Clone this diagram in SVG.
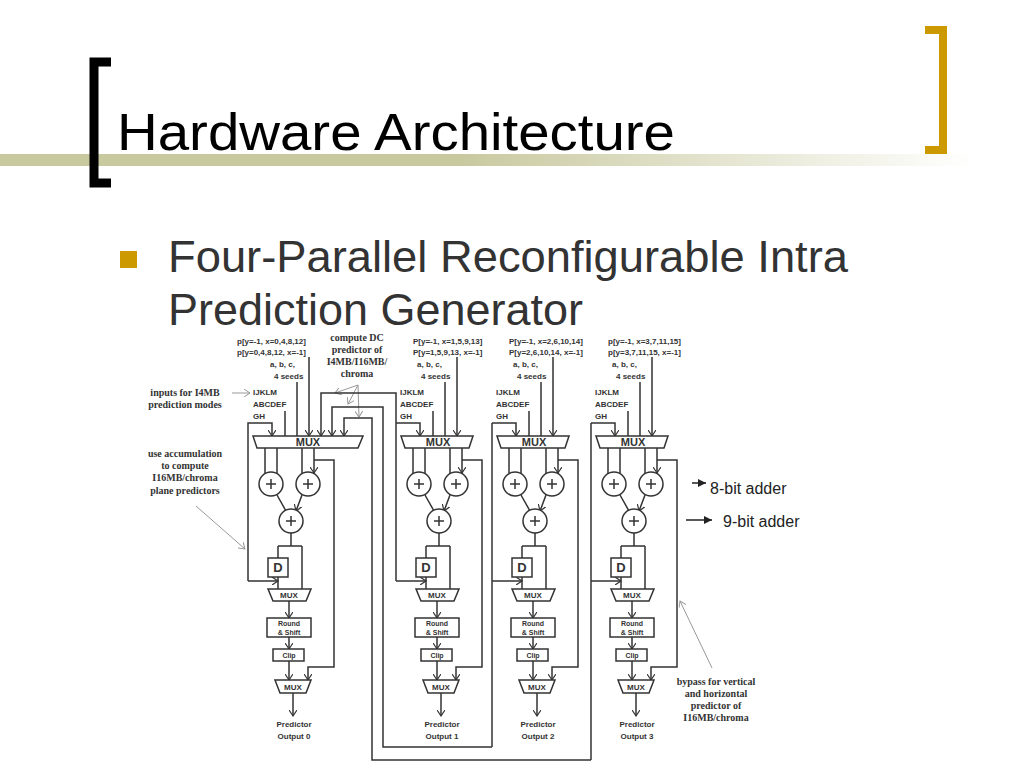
<svg xmlns="http://www.w3.org/2000/svg" width="1024" height="768" viewBox="0 0 1024 768">
<defs>
<linearGradient id="bar" x1="0" x2="1" y1="0" y2="0">
<stop offset="0" stop-color="#c9c9a0"/><stop offset="0.45" stop-color="#c9c9a0"/><stop offset="0.95" stop-color="#ffffff"/>
</linearGradient>
<marker id="ar" markerWidth="8" markerHeight="8" refX="6" refY="4" orient="auto" markerUnits="userSpaceOnUse">
<path d="M0,0 L6,4 L0,8" fill="none" stroke="#333" stroke-width="1.2"/>
</marker>
<marker id="ga" markerWidth="8" markerHeight="8" refX="6" refY="4" orient="auto" markerUnits="userSpaceOnUse">
<path d="M0,0 L6,4 L0,8" fill="none" stroke="#999" stroke-width="1"/>
</marker>
<marker id="la" markerWidth="10" markerHeight="8" refX="8" refY="4" orient="auto" markerUnits="userSpaceOnUse">
<path d="M0,0 L8,4 L0,8 Z" fill="#222"/>
</marker>
</defs>
<style>
.w{fill:none;stroke:#333;stroke-width:1.5}
.a{marker-end:url(#ar)}
.b{fill:#fff;stroke:#333;stroke-width:1.5}
.g{fill:none;stroke:#999;stroke-width:1;marker-end:url(#ga)}
.t{font-family:"Liberation Sans",Arial,sans-serif;font-weight:bold;fill:#333}
.s{font-family:"Liberation Serif","Times New Roman",serif;font-weight:bold;fill:#333;font-size:10px;text-anchor:middle}
.m{text-anchor:middle}
</style>
<rect width="1024" height="768" fill="#fff"/>
<rect x="0" y="154" width="1024" height="12" fill="url(#bar)"/>
<path d="M111,62 H94 V183 H111" fill="none" stroke="#000" stroke-width="9"/>
<path d="M925,30 H943 V150 H925" fill="none" stroke="#cc9900" stroke-width="8"/>
<text x="117" y="150" font-family="Liberation Sans,Arial,sans-serif" font-size="52" fill="#000" textLength="558" lengthAdjust="spacingAndGlyphs">Hardware Architecture</text>
<rect x="120" y="251" width="17" height="17" fill="#cc9900"/>
<text x="168" y="272" font-family="Liberation Sans,Arial,sans-serif" font-size="44" fill="#333" textLength="680" lengthAdjust="spacingAndGlyphs">Four-Parallel Reconfigurable Intra</text>
<text x="168" y="325" font-family="Liberation Sans,Arial,sans-serif" font-size="44" fill="#333" textLength="415" lengthAdjust="spacingAndGlyphs">Prediction Generator</text>

<g id="annotations">
<text class="s" x="185" y="396">inputs for I4MB</text>
<text class="s" x="185" y="408">prediction modes</text>
<path class="g" d="M232,393 H250"/>
<text class="s" x="185" y="457">use accumulation</text>
<text class="s" x="185" y="469">to compute</text>
<text class="s" x="185" y="481">I16MB/chroma</text>
<text class="s" x="185" y="494">plane predictors</text>
<path class="g" d="M196,506 L245,549"/>
<text class="s" x="357" y="341">compute DC</text>
<text class="s" x="357" y="353">predictor of</text>
<text class="s" x="357" y="365">I4MB/I16MB/</text>
<text class="s" x="357" y="377">chroma</text>
<path class="g" d="M358,385 L335,393"/>
<path class="g" d="M358,385 L348,404"/>
<path class="g" d="M358,385 L359,417"/>
<text class="s" x="716" y="685">bypass for vertical</text>
<text class="s" x="716" y="697">and horizontal</text>
<text class="s" x="716" y="709">predictor of</text>
<text class="s" x="716" y="721">I16MB/chroma</text>
<path class="g" d="M712,668 L680,601"/>
</g>

<g id="legend">
<path d="M692,483 H706" stroke="#222" stroke-width="1.5" marker-end="url(#la)"/>
<text x="710" y="494" font-family="Liberation Sans,Arial,sans-serif" font-size="16" fill="#222">8-bit adder</text>
<path d="M686,520 H712" stroke="#222" stroke-width="1.5" marker-end="url(#la)"/>
<text x="723" y="527" font-family="Liberation Sans,Arial,sans-serif" font-size="16" fill="#222">9-bit adder</text>
</g>

<g id="connectors">
<path class="w a" d="M396,581 V393 H321 V436"/>
<path class="w a" d="M492,747 H383 V407 H332 V436"/>
<path class="w a" d="M591,760 H372 V418 H344 V436"/>
<path class="w" d="M492,747 V423"/>
<path class="w" d="M591,760 V423"/>
<path class="w a" d="M248,581 V423 H272 V436"/>
<path class="w a" d="M396,423 H420 V436"/>
<path class="w a" d="M492,423 H516 V436"/>
<path class="w a" d="M591,423 H615 V436"/>
</g>

<g id="col0" transform="translate(278,0)">
<text class="t" x="-41" y="344" font-size="8">p[y=-1,  x=0,4,8,12]</text>
<text class="t" x="-41" y="355" font-size="8">p[y=0,4,8,12,  x=-1]</text>
<text class="t" x="-8" y="367" font-size="8">a, b, c,</text>
<text class="t" x="-4" y="379" font-size="8">4 seeds</text>
<text class="t" x="-25" y="395" font-size="8">IJKLM</text>
<text class="t" x="-25" y="407" font-size="8">ABCDEF</text>
<text class="t" x="-25" y="419" font-size="8">GH</text>
<path class="w a" d="M7,411 V436 M19,382 V436 M31,357 V436"/>
<polygon class="b" points="-25,436 85,436 80,448 -21,448"/>
<text class="t m" x="30" y="446" font-size="11">MUX</text>
<g id="c0body">
<path class="w a" d="M-13,448 V473 M-1,448 V473 M24,448 V473 M36,448 V473"/>
<path class="w a" d="M36,460 H56 V667 H30 V680"/>
<circle class="b" cx="-7" cy="484" r="12"/><circle class="b" cx="30" cy="484" r="12"/>
<path class="w" d="M-12,484 H-2 M-7,479 V489 M25,484 H35 M30,479 V489"/>
<path class="w a" d="M-1,495 L8,511 M24,495 L18,511"/>
<circle class="b" cx="13" cy="521" r="12"/>
<path class="w" d="M8,521 H18 M13,516 V526"/>
<path class="w" d="M13,533 V546 M0,546 H24"/>
<path class="w a" d="M0,546 V558 M24,546 V589 M0,577 V589 M-30,581 H0"/>
<rect class="b" x="-10" y="558" width="20" height="19"/>
<text class="t m" x="0" y="572" font-size="13">D</text>
<polygon class="b" points="-10,589 33,589 28,601 -5,601"/>
<text class="t m" x="11" y="598" font-size="8">MUX</text>
<path class="w a" d="M11,601 V618"/>
<rect class="b" x="-11" y="618" width="44" height="19"/>
<text class="t m" x="11" y="626" font-size="7">Round</text>
<text class="t m" x="11" y="635" font-size="7">&amp; Shift</text>
<path class="w a" d="M11,637 V649"/>
<rect class="b" x="-5" y="649" width="31" height="12"/>
<text class="t m" x="11" y="658" font-size="7">Clip</text>
<path class="w a" d="M11,661 V680"/>
<polygon class="b" points="-3,680 33,680 28,693 2,693"/>
<text class="t m" x="15" y="690" font-size="8">MUX</text>
<path class="w a" d="M15,693 V716"/>
<text class="t m" x="16" y="727" font-size="8">Predictor</text>
<text class="t m" x="16" y="739" font-size="8">Output 0</text>
</g>
</g>

<g id="col1" transform="translate(426,0)">
<text class="t" x="-13" y="344" font-size="8">P[y=-1,  x=1,5,9,13]</text>
<text class="t" x="-13" y="355" font-size="8">P[y=1,5,9,13,  x=-1]</text>
<text class="t" x="-9" y="367" font-size="8">a, b, c,</text>
<text class="t" x="-5" y="379" font-size="8">4 seeds</text>
<text class="t" x="-26" y="395" font-size="8">IJKLM</text>
<text class="t" x="-26" y="407" font-size="8">ABCDEF</text>
<text class="t" x="-26" y="419" font-size="8">GH</text>
<path class="w a" d="M7,411 V436 M19,382 V436 M31,357 V436"/>
<polygon class="b" points="-25,436 47,436 43,448 -21,448"/>
<text class="t m" x="12" y="446" font-size="11">MUX</text>
<use href="#c0body"/>
<rect x="-2" y="732" width="40" height="9" fill="#fff"/>
<text class="t m" x="16" y="739" font-size="8">Output 1</text>
</g>

<g id="col2" transform="translate(522,0)">
<text class="t" x="-13" y="344" font-size="8">P[y=-1,  x=2,6,10,14]</text>
<text class="t" x="-13" y="355" font-size="8">P[y=2,6,10,14,  x=-1]</text>
<text class="t" x="-9" y="367" font-size="8">a, b, c,</text>
<text class="t" x="-5" y="379" font-size="8">4 seeds</text>
<text class="t" x="-26" y="395" font-size="8">IJKLM</text>
<text class="t" x="-26" y="407" font-size="8">ABCDEF</text>
<text class="t" x="-26" y="419" font-size="8">GH</text>
<path class="w a" d="M7,411 V436 M19,382 V436 M31,357 V436"/>
<polygon class="b" points="-25,436 47,436 43,448 -21,448"/>
<text class="t m" x="12" y="446" font-size="11">MUX</text>
<use href="#c0body"/>
<rect x="-2" y="732" width="40" height="9" fill="#fff"/>
<text class="t m" x="16" y="739" font-size="8">Output 2</text>
</g>

<g id="col3" transform="translate(621,0)">
<text class="t" x="-13" y="344" font-size="8">p[y=-1,  x=3,7,11,15]</text>
<text class="t" x="-13" y="355" font-size="8">p[y=3,7,11,15,  x=-1]</text>
<text class="t" x="-9" y="367" font-size="8">a, b, c,</text>
<text class="t" x="-5" y="379" font-size="8">4 seeds</text>
<text class="t" x="-26" y="395" font-size="8">IJKLM</text>
<text class="t" x="-26" y="407" font-size="8">ABCDEF</text>
<text class="t" x="-26" y="419" font-size="8">GH</text>
<path class="w a" d="M7,411 V436 M19,382 V436 M31,357 V436"/>
<polygon class="b" points="-25,436 47,436 43,448 -21,448"/>
<text class="t m" x="12" y="446" font-size="11">MUX</text>
<use href="#c0body"/>
<rect x="-2" y="732" width="40" height="9" fill="#fff"/>
<text class="t m" x="16" y="739" font-size="8">Output 3</text>
</g>
</svg>
